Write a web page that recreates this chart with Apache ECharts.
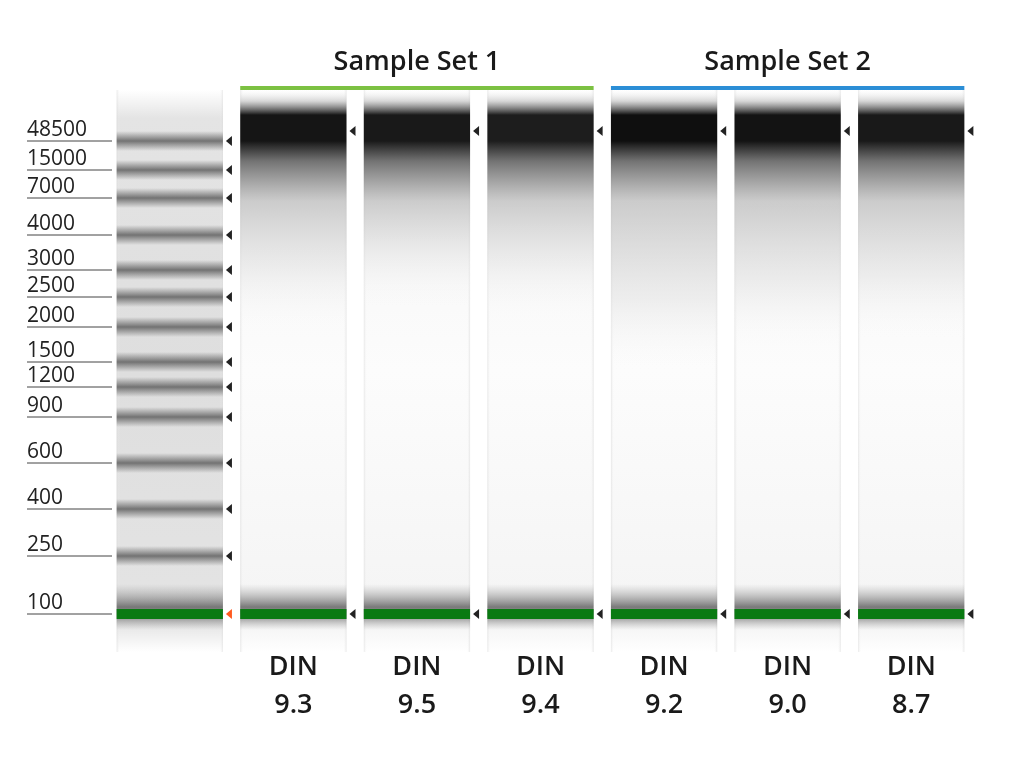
<!DOCTYPE html>
<html>
<head>
<meta charset="utf-8">
<script src="https://cdn.jsdelivr.net/npm/echarts@6/dist/echarts.min.js"></script>
<style>
  html, body { margin: 0; padding: 0; background: #fff; }
  #chart { width: 1024px; height: 768px; }
</style>
</head>
<body>
<div id="chart"></div>
<script>
// lanes: ladder + 6 samples
var lanes = ["Ladder", "S1", "S2", "S3", "S4", "S5", "S6"];
var dinValues = [null, "9.3", "9.5", "9.4", "9.2", "9.0", "8.7"];
var setNames = ["Sample Set 1", "Sample Set 2"];

// ladder sizes (bp) and their migration position (px from gel top)
var ladderSizes = ["48500", "15000", "7000", "4000", "3000", "2500", "2000", "1500", "1200", "900", "600", "400", "250", "100"];
var ladderPos = [51, 80, 108, 145, 180, 207, 237, 272, 297, 327, 373, 419, 466, 524];

// sample lanes: high-molecular-weight peak position, smear tail end, peak darkness
var hmwPos = [41, 41, 41, 41, 41, 41, 41];
var smearEnd = [0, 240, 220, 230, 280, 260, 250];
var peakDark = [0, 0.97, 0.95, 0.93, 1.0, 0.98, 0.95];
var markerPos = 524;

document.addEventListener("DOMContentLoaded", function () {
    var chart = echarts.init(document.getElementById("chart"));
    var font = "'Open Sans', 'Noto Sans', sans-serif";

    function vGrad(stops) {
        return new echarts.graphic.LinearGradient(0, 0, 0, 1, stops);
    }
    function hGrad(stops) {
        return new echarts.graphic.LinearGradient(0, 0, 1, 0, stops);
    }

    function arrow(x, y, color) {
        return {
            type: "polygon",
            shape: { points: [[x, y], [x + 6, y - 5], [x + 6, y + 5]] },
            style: { fill: color }
        };
    }

    function renderLane(params, api) {
        var idx = api.value(0);
        var cx = api.coord([idx, 0])[0];
        var bw = api.size([1, 0])[0];
        var w = bw * 0.86;
        var x0 = cx - w / 2;
        var top = api.coord([idx, 0])[1];
        var bottom = api.coord([idx, 562])[1];
        var kids = [];

        // lane background
        var bgCol = idx === 0 ? "#e4e4e4" : "#f4f4f4";
        kids.push({
            type: "rect",
            shape: { x: x0, y: top, width: w, height: bottom - top },
            style: {
                fill: vGrad([
                    { offset: 0, color: "rgba(255,255,255,1)" },
                    { offset: 0.05, color: bgCol },
                    { offset: 0.5, color: idx === 0 ? "#dedede" : "#fcfcfc" },
                    { offset: 0.95, color: bgCol },
                    { offset: 1, color: "rgba(255,255,255,1)" }
                ])
            }
        });
        // soft side edges
        kids.push({
            type: "rect",
            shape: { x: x0, y: top, width: w, height: bottom - top },
            style: {
                fill: hGrad([
                    { offset: 0, color: "rgba(210,210,210,0.5)" },
                    { offset: 0.03, color: "rgba(255,255,255,0)" },
                    { offset: 0.97, color: "rgba(255,255,255,0)" },
                    { offset: 1, color: "rgba(210,210,210,0.5)" }
                ])
            }
        });

        var rightX = x0 + w + 3;
        var my = api.coord([idx, markerPos])[1];

        if (idx === 0) {
            ladderPos.forEach(function (p, i) {
                var y = api.coord([idx, p])[1];
                if (i < ladderPos.length - 1) {
                    kids.push({
                        type: "rect",
                        shape: { x: x0, y: y - 10, width: w, height: 20 },
                        style: {
                            fill: vGrad([
                                { offset: 0, color: "rgba(100,100,100,0)" },
                                { offset: 0.5, color: "rgba(95,95,95,0.85)" },
                                { offset: 1, color: "rgba(100,100,100,0)" }
                            ])
                        }
                    });
                    kids.push(arrow(rightX, y, "#222"));
                }
                // size label + underline
                kids.push({
                    type: "text",
                    style: {
                        text: ladderSizes[i], x: 27, y: y,
                        textVerticalAlign: "bottom", fill: "#222",
                        font: "21px " + font
                    }
                });
                kids.push({
                    type: "line",
                    shape: { x1: 27, y1: y, x2: 112, y2: y },
                    style: { stroke: "#444", lineWidth: 1 }
                });
            });
            kids.push(arrow(rightX, my, "#ff5a1f"));
        } else {
            var py = api.coord([idx, hmwPos[idx]])[1];
            var ey = api.coord([idx, smearEnd[idx]])[1];
            var d = peakDark[idx];
            var g = Math.round(15 + (1 - d) * 200);
            var dark = "rgb(" + g + "," + g + "," + g + ")";
            var h = ey - top;
            kids.push({
                type: "rect",
                shape: { x: x0, y: top, width: w, height: h },
                style: {
                    fill: vGrad([
                        { offset: 0, color: "rgba(240,240,240,0)" },
                        { offset: (py - 30 - top) / h, color: "rgba(200,200,200,0.7)" },
                        { offset: (py - 16 - top) / h, color: dark },
                        { offset: (py + 10 - top) / h, color: dark },
                        { offset: (py + 30 - top) / h, color: "rgba(100,100,100,0.9)" },
                        { offset: (py + 70 - top) / h, color: "rgba(185,185,185,0.7)" },
                        { offset: 0.75, color: "rgba(225,225,225,0.5)" },
                        { offset: 1, color: "rgba(250,250,250,0)" }
                    ])
                }
            });
            kids.push(arrow(rightX, py, "#222"));
            kids.push(arrow(rightX, my, "#222"));
        }

        // lower marker (green) with shadow
        kids.push({
            type: "rect",
            shape: { x: x0, y: my - 30, width: w, height: 46 },
            style: {
                fill: vGrad([
                    { offset: 0, color: "rgba(160,160,160,0)" },
                    { offset: 0.5, color: "rgba(100,100,100,0.85)" },
                    { offset: 0.75, color: "rgba(110,110,110,0.6)" },
                    { offset: 1, color: "rgba(160,160,160,0)" }
                ])
            }
        });
        kids.push({
            type: "rect",
            shape: { x: x0, y: my - 5, width: w, height: 10 },
            style: { fill: "#0a7a12" }
        });

        // DIN label
        if (dinValues[idx]) {
            kids.push({
                type: "text",
                style: {
                    text: "DIN\n" + dinValues[idx], x: cx, y: 648,
                    textAlign: "center", fill: "#1a1a1a",
                    font: "600 27px " + font, lineHeight: 38
                }
            });
        }
        return { type: "group", children: kids };
    }

    function renderSet(params, api) {
        var a = api.value(0), b = api.value(1);
        var bw = api.size([1, 0])[0];
        var x1 = api.coord([a, 0])[0] - bw * 0.43;
        var x2 = api.coord([b, 0])[0] + bw * 0.43;
        var col = params.dataIndex === 0 ? "#7cc142" : "#2b8ed6";
        return {
            type: "group",
            children: [
                { type: "rect", shape: { x: x1, y: 86, width: x2 - x1, height: 4 }, style: { fill: col } },
                {
                    type: "text",
                    style: {
                        text: setNames[params.dataIndex], x: (x1 + x2) / 2, y: 62,
                        textAlign: "center", textVerticalAlign: "middle",
                        fill: "#1a1a1a", font: "600 27px " + font
                    }
                }
            ]
        };
    }

    var option = {
        animation: false,
        grid: { left: 108, right: 51, top: 90, height: 562 },
        xAxis: { type: "category", data: lanes, show: false },
        yAxis: { type: "value", min: 0, max: 562, inverse: true, show: false },
        series: [
            {
                type: "custom",
                renderItem: renderLane,
                data: lanes.map(function (l, i) { return [i]; }),
                clip: false
            },
            {
                type: "custom",
                renderItem: renderSet,
                data: [[1, 3], [4, 6]],
                clip: false
            }
        ]
    };
    chart.setOption(option);
});
</script>
</body>
</html>
